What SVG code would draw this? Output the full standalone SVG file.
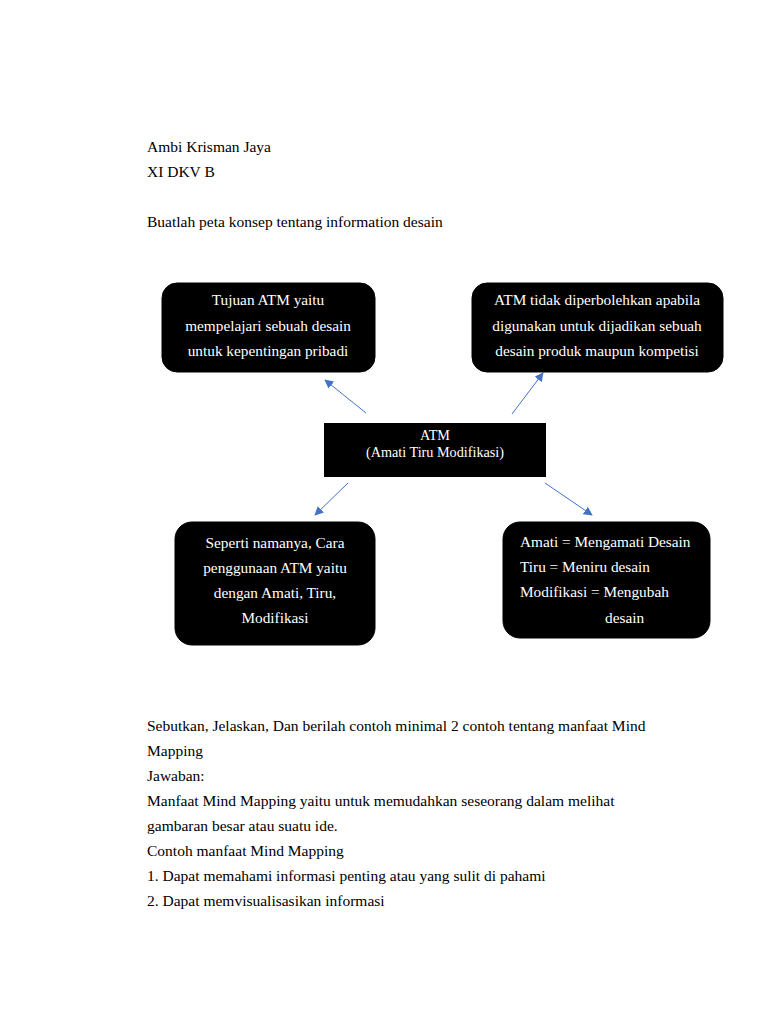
<svg xmlns="http://www.w3.org/2000/svg" width="768" height="1024" viewBox="0 0 768 1024">
<defs>
<style>
.t{font-family:"Liberation Serif","Times New Roman",serif;font-size:15.5px;fill:#000}
.w{font-family:"Liberation Serif","Times New Roman",serif;font-size:15.3px;fill:#fff}
.c{text-anchor:middle}
.box{fill:#000;stroke:#000}
.conn{stroke:#4472C4;stroke-width:1;fill:none;marker-end:url(#ah)}
</style>
<marker id="ah" viewBox="0 0 10 10" refX="9" refY="5" markerWidth="9" markerHeight="9" orient="auto" markerUnits="userSpaceOnUse">
<path d="M0,0 L10,5 L0,10 z" fill="#4472C4"/>
</marker>
</defs>
<rect width="768" height="1024" fill="#fff"/>
<text class="t" x="147" y="152">Ambi Krisman Jaya</text>
<text class="t" x="147" y="177">XI DKV B</text>
<text class="t" x="147" y="227">Buatlah peta konsep tentang information desain</text>

<g id="connectors">
<line class="conn" x1="366" y1="413" x2="325" y2="380"/>
<line class="conn" x1="512" y1="414" x2="543" y2="373"/>
<line class="conn" x1="348" y1="483" x2="315" y2="515"/>
<line class="conn" x1="545" y1="483" x2="592" y2="515"/>
</g>

<g id="n1">
<rect class="box" x="162" y="283" width="213" height="89" rx="15"/>
<text class="w c" x="268" y="305">Tujuan ATM yaitu</text>
<text class="w c" x="268" y="331">mempelajari sebuah desain</text>
<text class="w c" x="268" y="356">untuk kepentingan pribadi</text>
</g>
<g id="n2">
<rect class="box" x="472" y="283" width="251" height="89" rx="15"/>
<text class="w c" x="597" y="305">ATM tidak diperbolehkan apabila</text>
<text class="w c" x="597" y="331">digunakan untuk dijadikan sebuah</text>
<text class="w c" x="597" y="356">desain produk maupun kompetisi</text>
</g>
<g id="center">
<rect x="324" y="423" width="222" height="54" fill="#000"/>
<text class="w c" x="435" y="440" style="font-size:14.2px">ATM</text>
<text class="w c" x="435" y="457" style="font-size:14.2px">(Amati Tiru Modifikasi)</text>
</g>
<g id="n3">
<rect class="box" x="175" y="522" width="200" height="123" rx="17"/>
<text class="w c" x="275" y="548">Seperti namanya, Cara</text>
<text class="w c" x="275" y="573">penggunaan ATM yaitu</text>
<text class="w c" x="275" y="598">dengan Amati, Tiru,</text>
<text class="w c" x="275" y="623">Modifikasi</text>
</g>
<g id="n4">
<rect class="box" x="503" y="522" width="207" height="116" rx="17"/>
<text class="w" x="520" y="547">Amati = Mengamati Desain</text>
<text class="w" x="520" y="572">Tiru = Meniru desain</text>
<text class="w" x="520" y="597">Modifikasi = Mengubah</text>
<text class="w" x="605" y="623">desain</text>
</g>

<text class="t" x="147" y="731">Sebutkan, Jelaskan, Dan berilah contoh minimal 2 contoh tentang manfaat Mind</text>
<text class="t" x="147" y="756">Mapping</text>
<text class="t" x="147" y="781">Jawaban:</text>
<text class="t" x="147" y="806">Manfaat Mind Mapping yaitu untuk memudahkan seseorang dalam melihat</text>
<text class="t" x="147" y="831">gambaran besar atau suatu ide.</text>
<text class="t" x="147" y="856">Contoh manfaat Mind Mapping</text>
<text class="t" x="147" y="881">1. Dapat memahami informasi penting atau yang sulit di pahami</text>
<text class="t" x="147" y="906">2. Dapat memvisualisasikan informasi</text>
</svg>
